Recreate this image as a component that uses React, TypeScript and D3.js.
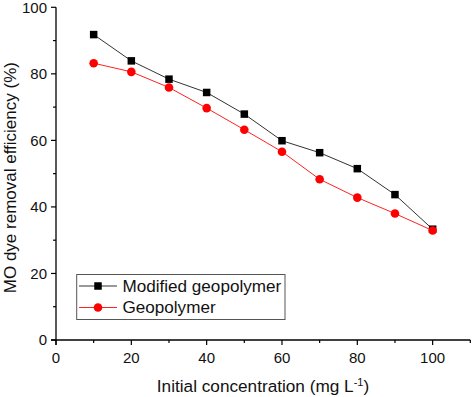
import React from "react";
import * as d3 from "d3";

const concentrations = [10, 20, 30, 40, 50, 60, 70, 80, 90, 100];
const modifiedValues = [91.8, 83.9, 78.4, 74.4, 67.9, 59.9, 56.3, 51.5, 43.7, 33.3];
const geopolymerValues = [83.2, 80.6, 75.9, 69.7, 63.2, 56.6, 48.3, 42.8, 38.0, 32.9];
const xTicks = [0, 10, 20, 30, 40, 50, 60, 70, 80, 90, 100, 110];
const yTicks = [0, 10, 20, 30, 40, 50, 60, 70, 80, 90, 100];
const seriesNames = ["Modified geopolymer", "Geopolymer"];

export default function App() {
  const W = 474, H = 397;
  const x = d3.scaleLinear().domain([0, 110]).range([56, 470.3]);
  const y = d3.scaleLinear().domain([0, 100]).range([340, 7.3]);
  const font = "Arial, 'Liberation Sans', sans-serif";
  const line = d3.line<[number, number]>().x(d => x(d[0])).y(d => y(d[1]));
  const modPts = concentrations.map((c, i) => [c, modifiedValues[i]] as [number, number]);
  const geoPts = concentrations.map((c, i) => [c, geopolymerValues[i]] as [number, number]);
  const sq = 7.5;
  const r = 4.3;
  return (
    <svg width={W} height={H} style={{ position: "absolute", left: 0, top: 0, background: "#fff" }}>
      {/* axes */}
      <line x1={x(0)} x2={x(0)} y1={y(100)} y2={y(0) + 5} stroke="#000" strokeWidth={1.3} />
      <line x1={x(0) - 5} x2={x(110)} y1={y(0)} y2={y(0)} stroke="#000" strokeWidth={1.3} />
      {yTicks.map(t => (
        <g key={"y" + t}>
          <line x1={x(0)} x2={x(0) - (t % 20 === 0 ? 5 : 3)} y1={y(t)} y2={y(t)} stroke="#000" strokeWidth={1.2} />
          {t % 20 === 0 && (
            <text x={x(0) - 9} y={y(t)} dy="0.35em" textAnchor="end" fontSize={15} fontFamily={font} fill="#111">{t}</text>
          )}
        </g>
      ))}
      {xTicks.map(t => (
        <g key={"x" + t}>
          <line x1={x(t)} x2={x(t)} y1={y(0)} y2={y(0) + (t % 20 === 0 ? 5 : 3)} stroke="#000" strokeWidth={1.2} />
          {t % 20 === 0 && t <= 100 && (
            <text x={x(t)} y={y(0) + 23} textAnchor="middle" fontSize={15} fontFamily={font} fill="#111">{t}</text>
          )}
        </g>
      ))}
      <text x={263} y={392} textAnchor="middle" fontSize={17.2} fontFamily={font} fill="#111">
        Initial concentration (mg L<tspan dy={-6} fontSize={11}>-1</tspan><tspan dy={6}>)</tspan>
      </text>
      <text transform={`translate(16,${(y(0) + y(100)) / 2 + 4}) rotate(-90)`} textAnchor="middle" fontSize={17} fontFamily={font} fill="#111">
        MO dye removal efficiency (%)
      </text>
      {/* series */}
      <path d={line(modPts) || ""} fill="none" stroke="#333" strokeWidth={1} />
      <path d={line(geoPts) || ""} fill="none" stroke="#f22" strokeWidth={1} />
      {modPts.map((p, i) => (
        <rect key={"m" + i} x={x(p[0]) - sq / 2} y={y(p[1]) - sq / 2} width={sq} height={sq} fill="#000" />
      ))}
      {geoPts.map((p, i) => (
        <circle key={"g" + i} cx={x(p[0])} cy={y(p[1])} r={r} fill="#ff0000" />
      ))}
      {/* legend */}
      <rect x={76.7} y={274.5} width={208.3} height={45} fill="#fff" stroke="#555" strokeWidth={1} />
      <line x1={79} x2={117} y1={286} y2={286} stroke="#333" strokeWidth={1} />
      <rect x={98 - sq / 2} y={286 - sq / 2} width={sq} height={sq} fill="#000" />
      <text x={122.5} y={286} dy="0.35em" fontSize={17.1} fontFamily={font} fill="#111">{seriesNames[0]}</text>
      <line x1={79} x2={117} y1={307.5} y2={307.5} stroke="#f22" strokeWidth={1} />
      <circle cx={98} cy={307.5} r={r} fill="#ff0000" />
      <text x={122.5} y={307.5} dy="0.35em" fontSize={17.1} fontFamily={font} fill="#111">{seriesNames[1]}</text>
    </svg>
  );
}
